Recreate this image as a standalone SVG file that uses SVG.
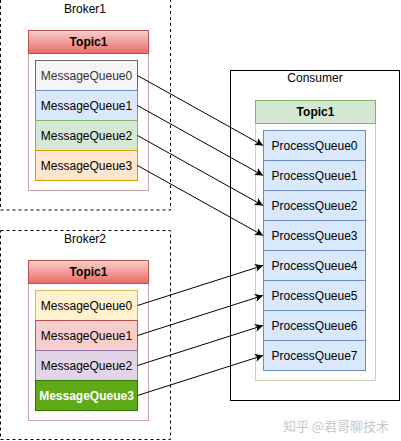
<svg xmlns="http://www.w3.org/2000/svg" width="401" height="441" viewBox="0 0 401 441">
<defs>
<linearGradient id="redGrad" x1="0" y1="0" x2="0" y2="1">
<stop offset="0" stop-color="#f8cecc"/>
<stop offset="1" stop-color="#ea6b66"/>
</linearGradient>
<marker id="arr" viewBox="0 0 10 10" refX="10" refY="5" markerWidth="8" markerHeight="8" markerUnits="userSpaceOnUse" orient="auto">
<path d="M0,0 L10,5 L0,10 L2.5,5 Z" fill="#000"/>
</marker>
</defs>
<style>
text{font-family:"Liberation Sans",Arial,sans-serif;font-size:12px;text-anchor:middle;dominant-baseline:central}
.b{font-weight:bold}
.dash{fill:#fff;stroke:#000;stroke-dasharray:3 3}
.hdrR{fill:url(#redGrad);stroke:#b85450}
.bodyR{fill:#fff;stroke:#c9a3a8}
.hdrG{fill:#d5e8d4;stroke:#82b366}
.bodyG{fill:#fff;stroke:#cfd3b2}
.conn path{fill:none;stroke:#000;stroke-width:1;marker-end:url(#arr)}
</style>
<rect width="401" height="441" fill="#fff"/>
<g id="broker1">
<rect class="dash" x="0.5" y="-5" width="170" height="215"/>
<text x="85" y="9">Broker1</text>
<g id="b1-topic1">
<rect class="bodyR" x="28.5" y="53.5" width="120" height="137"/>
<rect class="hdrR" x="28.5" y="30.5" width="120" height="23"/>
<text class="b" x="88.5" y="42">Topic1</text>
</g>
<g id="b1-mq0"><rect x="35.5" y="60.5" width="102" height="30" fill="#f5f5f5" stroke="#666666"/><text x="86.5" y="75.5" fill="#333333">MessageQueue0</text></g>
<g id="b1-mq1"><rect x="35.5" y="90.5" width="102" height="30" fill="#dae8fc" stroke="#6c8ebf"/><text x="86.5" y="105.5">MessageQueue1</text></g>
<g id="b1-mq2"><rect x="35.5" y="120.5" width="102" height="30" fill="#d5e8d4" stroke="#82b366"/><text x="86.5" y="135.5">MessageQueue2</text></g>
<g id="b1-mq3"><rect x="35.5" y="150.5" width="102" height="30" fill="#ffe6cc" stroke="#d79b00"/><text x="86.5" y="165.5">MessageQueue3</text></g>
</g>
<g id="broker2">
<rect class="dash" x="0.5" y="230.5" width="170" height="209"/>
<text x="85" y="239">Broker2</text>
<g id="b2-topic1">
<rect class="bodyR" x="28.5" y="283.5" width="120" height="137"/>
<rect class="hdrR" x="28.5" y="260.5" width="120" height="23"/>
<text class="b" x="88.5" y="272">Topic1</text>
</g>
<g id="b2-mq0"><rect x="35.5" y="290.5" width="102" height="30" fill="#fff2cc" stroke="#d6b656"/><text x="86.5" y="305.5">MessageQueue0</text></g>
<g id="b2-mq1"><rect x="35.5" y="320.5" width="102" height="30" fill="#f8cecc" stroke="#b85450"/><text x="86.5" y="335.5">MessageQueue1</text></g>
<g id="b2-mq2"><rect x="35.5" y="350.5" width="102" height="30" fill="#e1d5e7" stroke="#9673a6"/><text x="86.5" y="365.5">MessageQueue2</text></g>
<g id="b2-mq3"><rect x="35.5" y="380.5" width="102" height="30" fill="#60a917" stroke="#2d7600"/><text class="b" x="86.5" y="395.5" fill="#ffffff">MessageQueue3</text></g>
</g>
<g id="consumer">
<rect x="230.5" y="70.5" width="169" height="330" fill="#fff" stroke="#000"/>
<text x="315" y="78">Consumer</text>
<g id="c-topic1">
<rect class="bodyG" x="255.5" y="123.5" width="120" height="257"/>
<rect class="hdrG" x="255.5" y="100.5" width="120" height="23"/>
<text class="b" x="315.5" y="112">Topic1</text>
</g>
<g id="pq0"><rect x="263.5" y="130.5" width="102" height="30" fill="#dae8fc" stroke="#6c8ebf"/><text x="314.5" y="145.5">ProcessQueue0</text></g>
<g id="pq1"><rect x="263.5" y="160.5" width="102" height="30" fill="#dae8fc" stroke="#6c8ebf"/><text x="314.5" y="175.5">ProcessQueue1</text></g>
<g id="pq2"><rect x="263.5" y="190.5" width="102" height="30" fill="#dae8fc" stroke="#6c8ebf"/><text x="314.5" y="205.5">ProcessQueue2</text></g>
<g id="pq3"><rect x="263.5" y="220.5" width="102" height="30" fill="#dae8fc" stroke="#6c8ebf"/><text x="314.5" y="235.5">ProcessQueue3</text></g>
<g id="pq4"><rect x="263.5" y="250.5" width="102" height="30" fill="#dae8fc" stroke="#6c8ebf"/><text x="314.5" y="265.5">ProcessQueue4</text></g>
<g id="pq5"><rect x="263.5" y="280.5" width="102" height="30" fill="#dae8fc" stroke="#6c8ebf"/><text x="314.5" y="295.5">ProcessQueue5</text></g>
<g id="pq6"><rect x="263.5" y="310.5" width="102" height="30" fill="#dae8fc" stroke="#6c8ebf"/><text x="314.5" y="325.5">ProcessQueue6</text></g>
<g id="pq7"><rect x="263.5" y="340.5" width="102" height="30" fill="#dae8fc" stroke="#6c8ebf"/><text x="314.5" y="355.5">ProcessQueue7</text></g>
</g>
<g class="conn" id="connectors">
<path d="M137.5,75.5 L263,145.5"/>
<path d="M137.5,105.5 L263,175.5"/>
<path d="M137.5,135.5 L263,205.5"/>
<path d="M137.5,165.5 L263,235.5"/>
<path d="M137.5,305.5 L263,265.5"/>
<path d="M137.5,335.5 L263,295.5"/>
<path d="M137.5,395.5 L263,355.5"/>
<path d="M137.5,365.5 L263,325.5"/>
</g>
<text x="336" y="425" style="font-family:'Noto Sans CJK SC','Liberation Sans',sans-serif;font-size:13px" fill="#c6c6c6">知乎 @君哥聊技术</text>
</svg>
